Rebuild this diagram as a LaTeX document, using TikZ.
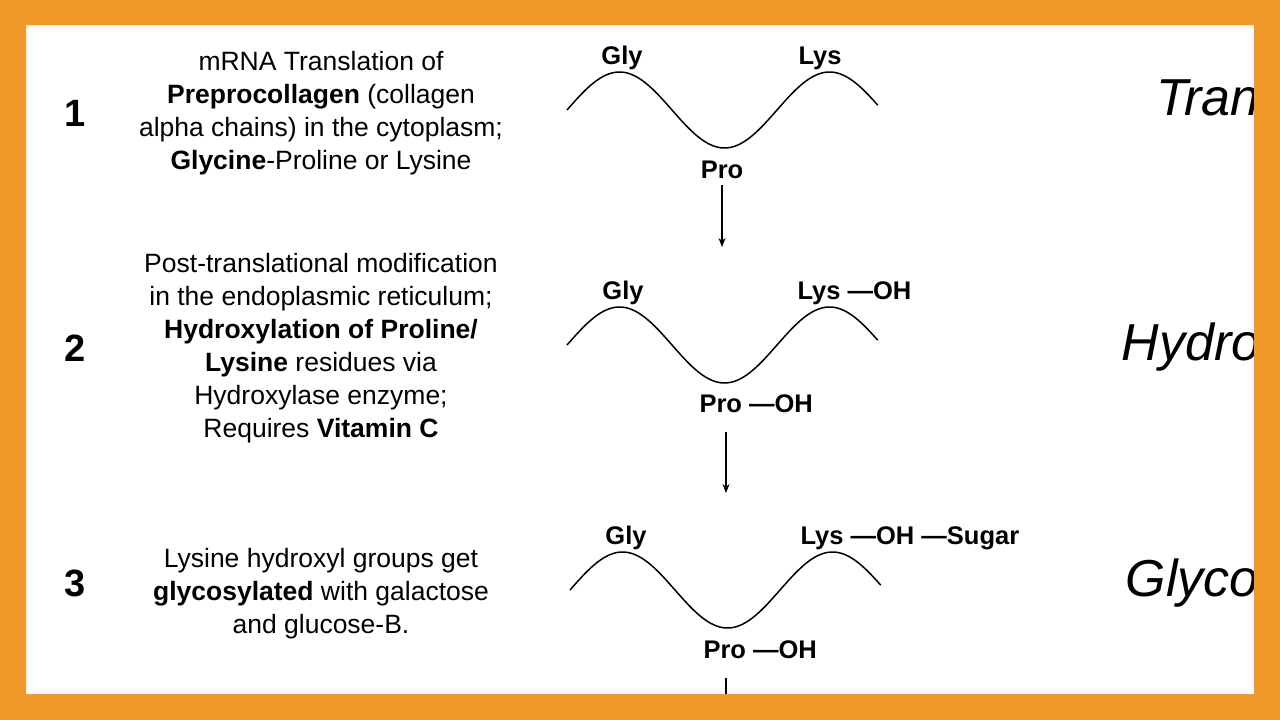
\documentclass[tikz,border=0pt]{standalone}
\usepackage{fontspec}
\setmainfont{Liberation Sans}
\usetikzlibrary{arrows.meta}
\begin{document}
\begin{tikzpicture}[x=1pt,y=-1pt,
  desc/.style={align=center,font=\fontsize{26.5}{33}\selectfont},
  num/.style={font=\fontsize{38}{40}\selectfont\bfseries},
  lab/.style={font=\fontsize{25.5}{28}\selectfont\bfseries},
  big/.style={anchor=west,font=\fontsize{52}{60}\selectfont\itshape},
  wave/.style={line width=1.5pt},
  arr/.style={line width=1.2pt,-{Stealth[length=9pt,width=7pt]}}]
\useasboundingbox (0,0) rectangle (1280,720);
\fill[white] (0,0) rectangle (1280,720);
% right clipped titles
\node[big] (t1) at (1153,97) {Translation};
\node[big] (t2) at (1118,347) {Hydroxylation};
\node[big] (t3) at (1122,583) {Glycosylation};
% orange frame
\fill[even odd rule,fill={rgb,255:red,240;green,153;blue,42}] (0,0) rectangle (1280,720) (26,25) rectangle (1254,694);
% numbers
\node[num] (n1) at (75,113) {1};
\node[num] (n2) at (75,348) {2};
\node[num] (n3) at (75,583) {3};
% descriptions
\node[desc] (d1) at (321,113) {mRNA Translation of\\\textbf{Preprocollagen} (collagen\\alpha chains) in the cytoplasm;\\\textbf{Glycine}-Proline or Lysine};
\node[desc] (d2) at (321,348) {Post-translational modification\\in the endoplasmic reticulum;\\\textbf{Hydroxylation of Proline/}\\\textbf{Lysine} residues via\\Hydroxylase enzyme;\\Requires \textbf{Vitamin C}};
\node[desc] (d3) at (321,594) {Lysine hydroxyl groups get\\\textbf{glycosylated} with galactose\\and glucose-B.};
% waves
\draw[wave] plot[domain=0:1.481,samples=120,smooth] ({567+210*\x},{110-38*sin(360*\x)});
\draw[wave] plot[domain=0:1.481,samples=120,smooth] ({567+210*\x},{345-38*sin(360*\x)});
\draw[wave] plot[domain=0:1.481,samples=120,smooth] ({570+210*\x},{590-38*sin(360*\x)});
% labels
\node[lab] (g1) at (622,58) {Gly};
\node[lab] (l1) at (820,58) {Lys};
\node[lab] (p1) at (722,170) {Pro};
\node[lab] (g2) at (623,293) {Gly};
\node[lab,anchor=west] (l2) at (794,293) {Lys —OH};
\node[lab,anchor=west] (p2) at (696,404) {Pro —OH};
\node[lab] (g3) at (626,538) {Gly};
\node[lab,anchor=west] (l3) at (797,538) {Lys —OH —Sugar};
\node[lab,anchor=west] (p3) at (700,650) {Pro —OH};
% arrows
\coordinate (a1) at (722,247);
\coordinate (a2) at (726,493);
\coordinate (a3) at (726,694);
\draw[arr] (722,185) -- (a1);
\draw[arr] (726,432) -- (a2);
\draw[line width=1.2pt] (726,678) -- (a3);
\end{tikzpicture}
\end{document}
